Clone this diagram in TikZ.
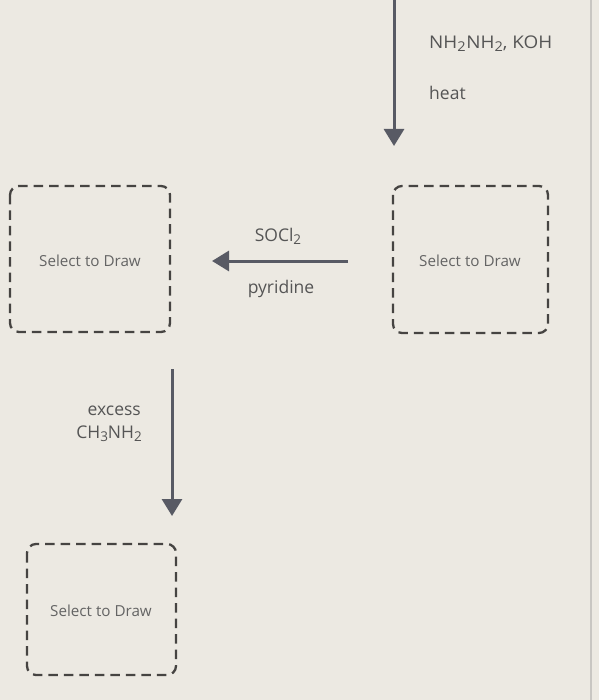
\documentclass[tikz,border=0pt]{standalone}
\usepackage{fontspec}
\setmainfont{Open Sans}
\usetikzlibrary{arrows.meta}
\definecolor{bg}{RGB}{236,233,226}
\definecolor{arr}{RGB}{88,90,100}
\definecolor{boxc}{RGB}{70,68,66}
\definecolor{txt}{RGB}{85,85,85}
\definecolor{txtb}{RGB}{100,100,100}
\definecolor{edge}{RGB}{200,198,194}
\newcommand{\mysub}[1]{\raisebox{-0.35ex}{\fontsize{13.5}{13.5}\selectfont #1}}
\tikzset{
  drawbox/.style={draw=boxc, line width=2.3pt, dash pattern=on 9.5pt off 6pt, rounded corners=9pt},
  rxn/.style={draw=arr, line width=3pt, -{Triangle[width=20pt,length=17pt]}},
  lbl/.style={text=txt, font=\fontsize{17.5}{20}\selectfont, inner sep=0pt},
  boxlbl/.style={text=txtb, font=\fontsize{15.2}{17}\selectfont, inner sep=0pt},
}
\begin{document}
\begin{tikzpicture}[x=1pt,y=-1pt]
\fill[bg] (0,0) rectangle (599,700);
\useasboundingbox (0,0) rectangle (599,700);
\draw[edge, line width=2pt] (591,0) -- (591,700);
% boxes
\draw[drawbox] (393,186) rectangle (548,333);
\node[boxlbl] (b1) at (470,261) {Select to Draw};
\draw[drawbox] (10,186) rectangle (170,332);
\node[boxlbl] (b2) at (90,261) {Select to Draw};
\draw[drawbox] (27,544) rectangle (176,675);
\node[boxlbl] (b3) at (101,611) {Select to Draw};
% arrows
\coordinate (t0) at (394,0);
\coordinate (t1) at (394,146);
\draw[rxn] (t0) -- (t1);
\node[lbl, anchor=west, xscale=1.08] (r1) at (429,44) {NH\mysub{2}\kern0.6pt NH\mysub{2}, KOH};
\node[lbl, anchor=west] (r2) at (429,93) {heat};
\coordinate (h0) at (348,261);
\coordinate (h1) at (212,261);
\draw[rxn] (h0) -- (h1);
\node[lbl] (s1) at (278,236) {SOCl\mysub{2}};
\node[lbl] (s2) at (281,289) {pyridine};
\coordinate (v0) at (172,369);
\coordinate (v1) at (172,516);
\draw[rxn] (v0) -- (v1);
\node[lbl, anchor=east] (e1) at (141,411) {excess};
\node[lbl, anchor=east] (e2) at (142,434) {CH\mysub{3}NH\mysub{2}};
\end{tikzpicture}
\end{document}
